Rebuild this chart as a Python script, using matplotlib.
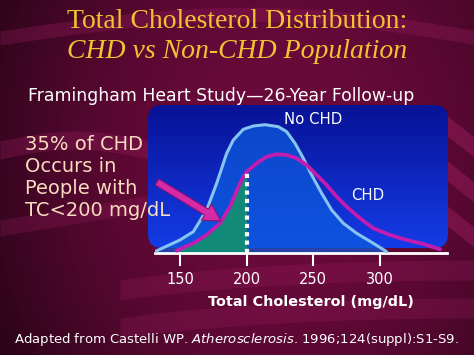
import numpy as np
import matplotlib
matplotlib.use("Agg")
import matplotlib.pyplot as plt
from matplotlib.patches import FancyBboxPatch, FancyArrow

# ---- data (relative frequency, arbitrary units) ----
nochd_x = [131, 150, 160, 170, 177.5, 185, 190, 197.5, 205, 213.75, 223.75, 230,
           236.25, 242.5, 248.75, 256.25, 263.75, 272.5, 282.5, 295, 305]
nochd_y = [1.3, 13, 21.3, 43, 69.7, 99.7, 113, 123.7, 127, 128.3, 126.3, 121.3,
           109.7, 94.7, 78, 59.7, 43, 29.7, 19.7, 9.7, 1.3]
chd_x = [147.5, 160, 170, 180, 187.5, 195, 200, 207.5, 215, 222.5, 230, 237.5, 245,
         252.5, 260, 267.5, 275, 285, 295, 307.5, 320, 332.5, 345]
chd_y = [2.3, 9.7, 18, 29.7, 46.3, 69.7, 81.3, 89.7, 96.3, 98.7, 98, 94.7, 88,
         78, 68, 56.3, 46.3, 34.7, 24.7, 18, 13, 9, 3.7]
cutoff = 200
xticks = [150, 200, 250, 300]

W, H = 474, 355
fig = plt.figure(figsize=(W / 100, H / 100), dpi=100)

# ---- background slide ----
bg = fig.add_axes([0, 0, 1, 1])
bg.set_xlim(0, W)
bg.set_ylim(H, 0)
bg.axis("off")
yy, xx = np.mgrid[0:H, 0:W]
u = xx / W
v = yy / H
shade = 1.0 - 0.55 * (u - 0.6) ** 2 * 2.4 - 0.25 * (v - 0.45) ** 2 * 2
shade = np.clip(shade, 0.35, 1)
base = np.array([108, 10, 60]) / 255.0
img = base[None, None, :] * shade[..., None]
bg.imshow(img, extent=(0, W, H, 0), aspect="auto", zorder=0)

band_col = (0.62, 0.12, 0.38)
xs = np.linspace(0, W, 200)
c1 = 38 - 28 * np.sin(xs / W * np.pi * 0.9) + 8 * (xs / W)
bg.fill_between(xs, c1 - 7, c1 + 7, color=band_col, alpha=0.3, lw=0, zorder=1)
xl = np.linspace(0, 150, 80)
c2 = 150 - 10 * np.sin(xl / 150 * np.pi)
bg.fill_between(xl, c2 - 9, c2 + 9, color=band_col, alpha=0.3, lw=0, zorder=1)
c3 = 228 - 25 * (xl / 150)
bg.fill_between(xl, c3 - 8, c3 + 8, color=band_col, alpha=0.25, lw=0, zorder=1)
xr = np.linspace(120, W, 120)
for off in (0, 38):
    c4 = 290 + off + 40 * ((xr - 120) / (W - 120)) ** 1.5 - 60 * (xr - 120) / (W - 120)
    bg.fill_between(xr, c4 - 10, c4 + 10, color=band_col, alpha=0.25, lw=0, zorder=1)
xr2 = np.linspace(440, W, 30)
for off in (0, 45, 90):
    c5 = 120 + off + 0.8 * (xr2 - 440)
    bg.fill_between(xr2, c5 - 10, c5 + 10, color=band_col, alpha=0.45, lw=0, zorder=1)

# ---- blue chart panel ----
box = FancyBboxPatch((148, 105), 300, 143, boxstyle="round,pad=0,rounding_size=14",
                     facecolor="none", edgecolor="none", zorder=2)
bg.add_patch(box)
gy = np.linspace(0, 1, 100)[:, None, None]
top = np.array([8, 18, 150]) / 255.0
bot = np.array([20, 60, 230]) / 255.0
grad = top * (1 - gy) + bot * gy
grad = np.repeat(grad, 2, axis=1)
im = bg.imshow(grad, extent=(148, 448, 248, 105), aspect="auto", zorder=2)
im.set_clip_path(box)

# ---- texts on slide ----
gold = "#f2c232"
fig.text(0.5, 1 - 21 / H, "Total Cholesterol Distribution:", ha="center", va="center",
         family="Liberation Serif", fontsize=20, color=gold)
fig.text(0.5, 1 - 52 / H, "CHD vs Non-CHD Population", ha="center", va="center",
         family="Liberation Serif", style="italic", fontsize=20, color=gold)
fig.text(28 / W, 1 - 96 / H, "Framingham Heart Study\u201426-Year Follow-up", ha="left",
         va="center", fontsize=12.4, color="white")
fig.text(25 / W, 1 - 178 / H, "35% of CHD\nOccurs in\nPeople with\nTC<200 mg/dL",
         ha="left", va="center", fontsize=14, color="#f8dcc0", linespacing=1.2)
fig.text(236.5 / W, 1 - 340 / H,
         "Adapted from Castelli WP. $\\it{Atherosclerosis}$. 1996;124(suppl):S1-S9.",
         ha="center", va="center", fontsize=9.55, color="white")

# ---- data axes ----
ax = fig.add_axes([155 / W, 1 - 253 / H, (447 - 155) / W, 148 / H])
ax.patch.set_alpha(0)
ax.set_xlim(131.25, 350.25)
ax.set_ylim(0, 148)
for s in ("top", "right", "left"):
    ax.spines[s].set_visible(False)
ax.spines["bottom"].set_color("white")
ax.spines["bottom"].set_linewidth(2)
ax.set_yticks([])
ax.set_xticks(xticks)
ax.tick_params(axis="x", colors="white", length=9, width=1.5, labelsize=10.5, pad=5)

ax.fill_between(nochd_x, nochd_y, 0, color="#0c5cdc", alpha=0.7, lw=0, zorder=1)
cx = np.array(chd_x)
cy = np.array(chd_y)
m = cx <= cutoff
ax.fill_between(cx[m], cy[m], 0, color="#118a78", lw=0, zorder=2)
ax.plot(nochd_x, nochd_y, color="#86c4f2", lw=2.2, zorder=3, solid_capstyle="round",
        solid_joinstyle="round")
ax.plot(chd_x, chd_y, color="#c21cb0", lw=2.7, zorder=4, solid_capstyle="round",
        solid_joinstyle="round")
ax.plot([cutoff, cutoff], [0, np.interp(cutoff, cx, cy)], color="white", lw=3,
        linestyle=(0, (1, 1)), dash_capstyle="butt", zorder=5)
ax.text(150 + (313 - 180) * 0.75, 253 - 119, "No CHD", color="white", fontsize=10.7,
        ha="center", va="center")
ax.text(150 + (368 - 180) * 0.75, 253 - 196, "CHD", color="white", fontsize=10.7,
        ha="center", va="center")

fig.text(311 / W, 1 - 302 / H, "Total Cholesterol (mg/dL)", ha="center", va="center",
         fontsize=10.4, fontweight="bold", color="white")

# ---- arrow (overlay) ----
top_ax = fig.add_axes([0, 0, 1, 1])
top_ax.set_xlim(0, W)
top_ax.set_ylim(H, 0)
top_ax.axis("off")
top_ax.patch.set_alpha(0)
top_ax.add_patch(FancyArrow(157, 182, 64, 39, width=7, head_width=19, head_length=17,
                            length_includes_head=True, facecolor="#d62aa8",
                            edgecolor="#8a1070", lw=0.8))
bg.set_zorder(0)
ax.set_zorder(1)
top_ax.set_zorder(2)

fig.savefig("out.png", dpi=100)
